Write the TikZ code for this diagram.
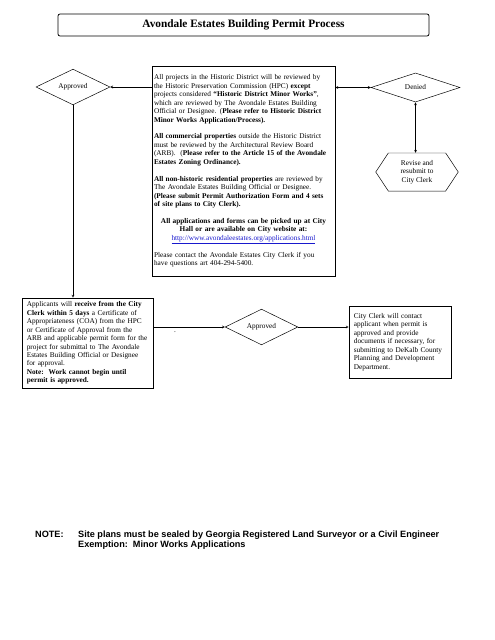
\documentclass[tikz,border=0pt]{standalone}
\usepackage{fontspec}
\setmainfont{Liberation Serif}
\newfontfamily\notefont{Liberation Sans}
\usetikzlibrary{shapes.geometric,shapes.symbols}
\setlength{\parindent}{0pt}
\definecolor{linkblue}{RGB}{25,25,205}
\newcommand{\bodysz}{\fontsize{9}{10.45}\selectfont}
\tikzset{
  pbox/.style={draw,line width=0.8pt,inner ysep=2pt,font=\bodysz},
  dec/.style={diamond,draw,line width=0.6pt,inner sep=0pt,font=\bodysz},
  hexa/.style={signal,signal to=west and east,signal pointer angle=113,draw,line width=0.6pt,inner sep=0pt,align=center,font=\bodysz},
  conn/.style={line width=0.6pt},
  notetx/.style={anchor=base west,inner sep=0pt,font=\notefont\bfseries\fontsize{11.3}{13}\selectfont},
}
\begin{document}
\begin{tikzpicture}[>=stealth,x=1.2364pt,y=-1.2364pt]
\useasboundingbox (0,0) rectangle (495,640);
\node[draw,rounded corners=2.5pt,line width=0.9pt,minimum width=458.7pt,minimum height=27.2pt,
  font=\fontsize{14}{16}\selectfont\bfseries] (title) at (243.5,25) {Avondale Estates Building Permit Process};
\node[pbox,inner xsep=2.5pt,text width=221.3pt,minimum height=259.6pt] (rules) at (243.5,171) {\raggedright
All projects in the Historic District will be reviewed by\\
the Historic Preservation Commission (HPC) \textbf{except}\\
projects considered \textbf{``Historic District Minor Works''},\\
which are reviewed by The Avondale Estates Building\\
Official or Designee. (\textbf{Please refer to Historic District}\\
\textbf{Minor Works Application/Process).}\par
\vspace{10.45pt}
\textbf{All commercial properties} outside the Historic District\\
must be reviewed by the Architectural Review Board\\
(ARB).\ \ (\textbf{Please refer to the Article 15 of the Avondale}\\
\textbf{Estates Zoning Ordinance).}\par
\vspace{10.45pt}
\textbf{All non-historic residential properties} are reviewed by\\
The Avondale Estates Building Official or Designee.\\
\textbf{(Please submit Permit Authorization Form and 4 sets}\\
\textbf{of site plans to City Clerk).}\par
\vspace{10.45pt}
{\centering\bfseries All applications and forms can be picked up at City\\
Hall or are available on City website at:\\
\mdseries{\color{linkblue}\underline{http://www.avondaleestates.org/applications.html}}\par}
\vspace{10.45pt}
Please contact the Avondale Estates City Clerk if you\\
have questions art 404-294-5400.};
\node[dec,minimum width=91.5pt,minimum height=37pt] (apr1) at (73,87) {Approved};
\node[dec,minimum width=110pt,minimum height=36pt] (den) at (415.5,87.5) {Denied};
\node[hexa,minimum width=102pt,minimum height=47pt] (rev) at (417,172) {Revise and\\ resubmit to\\ City Clerk};
\node[pbox,inner xsep=6pt,text width=150pt,minimum height=111.3pt,align=left] (coa) at (87.5,343) {Applicants will \textbf{receive from the City}\\
\textbf{Clerk within 5 days} a Certificate of\\
Appropriateness (COA) from the HPC\\
or Certificate of Approval from the\\
ARB and applicable permit form for the\\
project for submittal to The Avondale\\
Estates Building Official or Designee\\
for approval.\\
\textbf{Note:\ \ Work cannot begin until}\\
\textbf{permit is approved.}};
\node[dec,minimum width=90pt,minimum height=37pt] (apr2) at (261.5,327) {Approved};
\node[pbox,inner xsep=6pt,text width=114pt,minimum height=89pt,align=left] (clerk) at (400,342) {City Clerk will contact\\
applicant when permit is\\
approved and provide\\
documents if necessary, for\\
submitting to DeKalb County\\
Planning and Development\\
Department.};
\node[font=\bodysz,inner sep=0pt] (dot) at (175,332) {.};
% connectors
\draw[conn,->] (rules.west |- apr1.east) -- (apr1.east);
\draw[conn,<->] (rules.east |- den.west) -- (den.west);
\draw[conn,<->] (den.south) -- (den.south |- rev.north);
\draw[conn,->] (apr1.south) -- (apr1.south |- coa.north);
\draw[conn,->] (coa.east |- apr2.west) -- (apr2.west);
\draw[conn,->] (apr2.east) -- (clerk.west |- apr2.east);
% note at the foot
\node[notetx] (nhd) at (35,537) {NOTE:};
\node[notetx] (n1) at (78,537) {Site plans must be sealed by Georgia Registered Land Surveyor or a Civil Engineer};
\node[notetx] (n2) at (78,547.5) {Exemption:\ \ Minor Works Applications};
\end{tikzpicture}
\end{document}
